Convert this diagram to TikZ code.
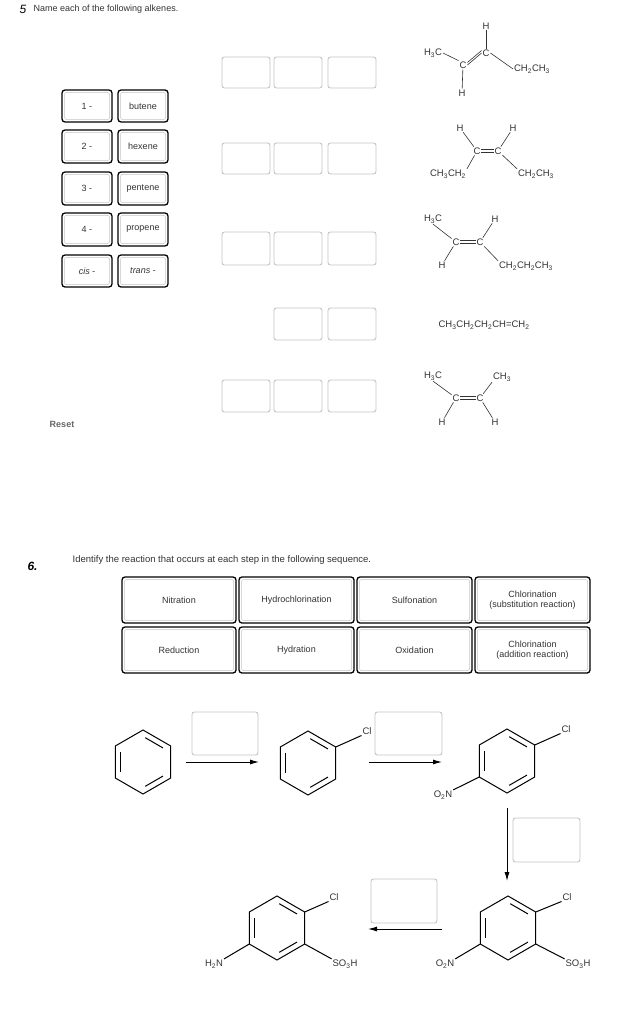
\documentclass[tikz,border=0pt]{standalone}
\usepackage{fontspec}
\setmainfont{Liberation Sans}
\usetikzlibrary{calc,arrows.meta}
\definecolor{txt}{HTML}{333333}
\definecolor{bx}{HTML}{C4C4C4}
\tikzset{
  ans/.style={draw=bx,line width=0.9pt,rounded corners=2.5pt,fill=white},
  tile/.style={draw=black,line width=1.3pt,rounded corners=3pt,fill=white},
  tilein/.style={draw=bx,line width=0.5pt,rounded corners=2pt},
  lbl/.style={font=\fontsize{9}{10.5}\selectfont,text=txt,inner sep=0.5pt},
  chem/.style={font=\fontsize{9.5}{11}\selectfont,text=txt,inner sep=0.8pt},
  bond/.style={draw=txt,line width=0.6pt},
  ring/.style={draw=black,line width=1pt},
  arr/.style={draw=black,line width=1pt,-{Latex[length=9pt,width=5pt]}}
}
\newcommand{\hexring}[3]{%
  \coordinate (#1) at (#2,#3);
  \foreach \i/\a in {1/-30,2/-90,3/-150,4/150,5/90,6/30}{\coordinate (#1-\i) at ($(#1)+(\a:32)$);}
  \draw[ring] (#1-1)--(#1-2)--(#1-3)--(#1-4)--(#1-5)--(#1-6)--cycle;
  \foreach \p/\q in {1/2,3/4,5/6}{\draw[ring] ($($(#1)!0.8!(#1-\p)$)!0.1!($(#1)!0.8!(#1-\q)$)$)--($($(#1)!0.8!(#1-\q)$)!0.1!($(#1)!0.8!(#1-\p)$)$);}
}
\newcommand{\tilebox}[5]{%
  \draw[tile] (#2,#3) rectangle (#4,#5);
  \draw[tilein] (#2+2.5,#3+2.5) rectangle (#4-2.5,#5-2.5);
  \node[lbl] (#1) at ({(#2+#4)/2},{(#3+#5)/2}) {};
}
\begin{document}
\begin{tikzpicture}[x=1pt,y=-1pt]
\useasboundingbox (0,0) rectangle (635,1024);
\fill[white] (0,0) rectangle (635,1024);
% header 5
\node[font=\itshape\fontsize{12}{13}\selectfont,anchor=west] (n5) at (16,9) {5};
\node[lbl,anchor=west] (t5) at (33,9) {Name each of the following alkenes.};
% answer boxes
\foreach \y/\h [count=\r] in {57/31,143/31,232/33}{
  \draw[ans] (222,\y) rectangle +(48,\h);
  \draw[ans] (274,\y) rectangle +(48,\h);
  \draw[ans] (328,\y) rectangle +(48,\h);}
\draw[ans] (274,308) rectangle +(48,32);
\draw[ans] (328,308) rectangle +(48,32);
\foreach \x in {222,274,328}{\draw[ans] (\x,380) rectangle +(48,32);}
% tiles
\tilebox{a1}{62}{90}{112}{122}
\tilebox{b1}{118}{90}{168}{122}
\tilebox{a2}{62}{130}{112}{163}
\tilebox{b2}{118}{130}{168}{163}
\tilebox{a3}{62}{172}{112}{205}
\tilebox{b3}{118}{172}{168}{205}
\tilebox{a4}{62}{213}{112}{246}
\tilebox{b4}{118}{213}{168}{246}
\tilebox{a5}{62}{255}{112}{287}
\tilebox{b5}{118}{255}{168}{287}
\node[lbl] at (a1) {1 -};\node[lbl] at (b1) {butene};
\node[lbl] at (a2) {2 -};\node[lbl] at (b2) {hexene};
\node[lbl] at (a3) {3 -};\node[lbl] at (b3) {pentene};
\node[lbl] at (a4) {4 -};\node[lbl] at (b4) {propene};
\node[lbl,font=\itshape\fontsize{9}{10.5}\selectfont] at (a5) {cis -};
\node[lbl,font=\itshape\fontsize{9}{10.5}\selectfont] at (b5) {trans -};
\node[lbl,font=\bfseries\fontsize{9}{10.5}\selectfont,text=gray!80!black] (reset) at (62,424) {Reset};
% alkene 1
\node[chem] (h3c1) at (433,53) {H\textsubscript{3}C};
\node[chem] (c1a) at (463,65) {C};
\node[chem] (c1b) at (486,53) {C};
\node[chem] (et1) at (532,69) {CH\textsubscript{2}CH\textsubscript{3}};
\node[chem] (h1t) at (486,26) {H};
\node[chem] (h1b) at (462,93) {H};
\draw[bond] (h3c1.east)--(c1a.north west);
\draw[bond] (c1a.east)--(c1b.west);
\draw[bond] ($(c1a.east)+(0,-2.5)$)--($(c1b.west)+(0,-2.5)$);
\draw[bond] (c1b.east)--(et1.west);
\draw[bond] (h1t)--(c1b);
\draw[bond] (h1b)--(c1a);
% alkene 2
\node[chem] (h2a) at (460,128) {H};
\node[chem] (h2b) at (513,128) {H};
\node[chem] (c2a) at (477,151) {C};
\node[chem] (c2b) at (498,151) {C};
\node[chem] (et2a) at (448,174) {CH\textsubscript{3}CH\textsubscript{2}};
\node[chem] (et2b) at (536,174) {CH\textsubscript{2}CH\textsubscript{3}};
\draw[bond] ([yshift=-1.3]c2a.east)--([yshift=-1.3]c2b.west);
\draw[bond] ([yshift=1.3]c2a.east)--([yshift=1.3]c2b.west);
\draw[bond] (h2a)--(c2a);\draw[bond] (h2b)--(c2b);
\draw[bond] (et2a.north east)--(c2a);\draw[bond] (et2b.north west)--(c2b);
% alkene 3
\node[chem] (h3c3) at (433,219) {H\textsubscript{3}C};
\node[chem] (h3t) at (495,219) {H};
\node[chem] (c3a) at (456,242) {C};
\node[chem] (c3b) at (480,242) {C};
\node[chem] (h3b) at (442,265) {H};
\node[chem] (pr3) at (526,266) {CH\textsubscript{2}CH\textsubscript{2}CH\textsubscript{3}};
\draw[bond] ([yshift=-1.3]c3a.east)--([yshift=-1.3]c3b.west);
\draw[bond] ([yshift=1.3]c3a.east)--([yshift=1.3]c3b.west);
\draw[bond] (h3c3.south)--(c3a);\draw[bond] (h3t)--(c3b);
\draw[bond] (h3b)--(c3a);\draw[bond] (pr3.north west)--(c3b);
% alkene 4
\node[chem] (pent) at (484,325) {CH\textsubscript{3}CH\textsubscript{2}CH\textsubscript{2}CH=CH\textsubscript{2}};
% alkene 5
\node[chem] (h3c5) at (433,376) {H\textsubscript{3}C};
\node[chem] (ch5) at (502,377) {CH\textsubscript{3}};
\node[chem] (c5a) at (456,398) {C};
\node[chem] (c5b) at (480,398) {C};
\node[chem] (h5a) at (442,422) {H};
\node[chem] (h5b) at (495,422) {H};
\draw[bond] ([yshift=-1.3]c5a.east)--([yshift=-1.3]c5b.west);
\draw[bond] ([yshift=1.3]c5a.east)--([yshift=1.3]c5b.west);
\draw[bond] (h3c5.south)--(c5a);\draw[bond] (ch5.south west)--(c5b);
\draw[bond] (h5a)--(c5a);\draw[bond] (h5b)--(c5b);
% question 6
\node[font=\bfseries\itshape\fontsize{12}{13}\selectfont,anchor=west] (n6) at (24,566) {6.};
\node[lbl,anchor=west,font=\fontsize{9.5}{11}\selectfont] (t6) at (72,560) {Identify the reaction that occurs at each step in the following sequence.};
\tilebox{r1}{122}{577}{236}{623}
\tilebox{r2}{239}{577}{354}{623}
\tilebox{r3}{357}{577}{472}{623}
\tilebox{r4}{475}{577}{590}{623}
\tilebox{r5}{122}{627}{236}{673}
\tilebox{r6}{239}{627}{354}{673}
\tilebox{r7}{357}{627}{472}{673}
\tilebox{r8}{475}{627}{590}{673}
\node[lbl] at (r1) {Nitration};
\node[lbl] at (r2) {Hydrochlorination};
\node[lbl] at (r3) {Sulfonation};
\node[lbl,align=center] at (r4) {Chlorination\\(substitution reaction)};
\node[lbl] at (r5) {Reduction};
\node[lbl] at (r6) {Hydration};
\node[lbl] at (r7) {Oxidation};
\node[lbl,align=center] at (r8) {Chlorination\\(addition reaction)};
% rings
\hexring{A}{143}{762}
\hexring{B}{308}{763}
\hexring{C}{507}{761}
\hexring{D}{508}{928}
\hexring{E}{277}{928}
\node[chem] (clB) at (367,731) {Cl};
\draw[ring] (B-1)--(clB.south west);
\node[chem] (clC) at (566,729) {Cl};
\node[chem] (noC) at (443,795) {O\textsubscript{2}N};
\draw[ring] (C-1)--(clC.south west);\draw[ring] (C-4)--(noC.north east);
\node[chem] (clD) at (567,897) {Cl};
\node[chem] (soD) at (578,964) {SO\textsubscript{3}H};
\node[chem] (noD) at (445,964) {O\textsubscript{2}N};
\draw[ring] (D-1)--(clD.south west);\draw[ring] (D-6)--(soD.north west);\draw[ring] (D-4)--(noD.north east);
\node[chem] (clE) at (334,897) {Cl};
\node[chem] (soE) at (345,964) {SO\textsubscript{3}H};
\node[chem] (nhE) at (214,964) {H\textsubscript{2}N};
\draw[ring] (E-1)--(clE.south west);\draw[ring] (E-6)--(soE.north west);\draw[ring] (E-4)--(nhE.north east);
% step boxes and arrows
\draw[ans] (192,712) rectangle (258,755);
\draw[ans] (375,712) rectangle (442,755);
\draw[ans] (513,818) rectangle (580,862);
\draw[ans] (371,879) rectangle (437,923);
\coordinate (a1s) at (186,762);\coordinate (a1e) at (259,762);
\coordinate (a2s) at (369,762);\coordinate (a2e) at (442,762);
\coordinate (a3s) at (507,808);\coordinate (a3e) at (507,881);
\coordinate (a4s) at (442,929);\coordinate (a4e) at (368,929);
\draw[arr] (a1s)--(a1e);\draw[arr] (a2s)--(a2e);
\draw[arr] (a3s)--(a3e);\draw[arr] (a4s)--(a4e);
\end{tikzpicture}
\end{document}
